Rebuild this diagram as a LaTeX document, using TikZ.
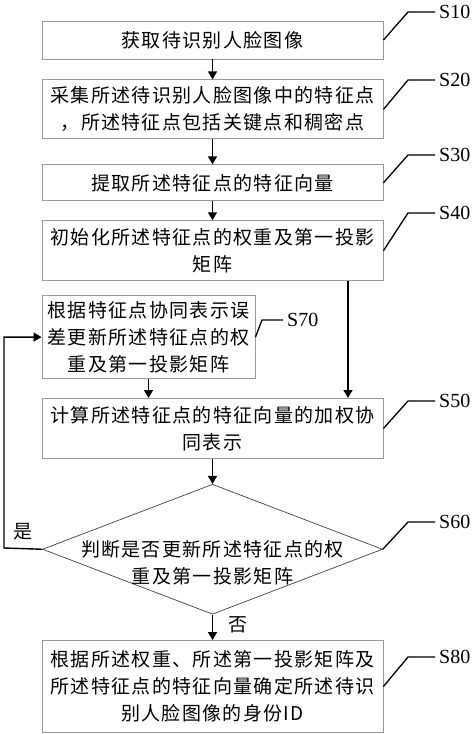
\documentclass[tikz,border=0pt]{standalone}
\usepackage{fontspec}
\setmainfont{Liberation Serif}
\newfontfamily\cjkfont[LetterSpace=7]{Noto Sans CJK SC}
\usetikzlibrary{positioning,shapes.geometric,arrows.meta}

\tikzset{
  stepbox/.style={draw=black!40, line width=0.9pt, inner sep=0pt,
    minimum width=341pt, text width=330pt, align=center,
    font=\cjkfont\fontsize{19}{27}\selectfont},
  decide/.style={diamond, draw=black!75, line width=0.7pt, inner sep=0pt,
    minimum width=340pt, minimum height=130pt},
  flow/.style={line width=1.4pt, -{Triangle[length=8pt,width=9pt]}},
  lead/.style={line width=1.3pt},
  steplabel/.style={anchor=west, inner sep=0pt, font=\fontsize{20}{20}\selectfont},
  cjklabel/.style={inner sep=0pt, font=\cjkfont\fontsize{19}{27}\selectfont}
}

\begin{document}
\begin{tikzpicture}[x=1pt, y=-1pt, node distance=20pt]
  \useasboundingbox (0,0) rectangle (474,734);

  % Define nodes
  \node[stepbox, minimum height=38pt] (s10) at (212.5,40) {获取待识别人脸图像};
  \node[stepbox, minimum height=59pt, below=20pt of s10] (s20)
    {采集所述待识别人脸图像中的特征点\\，所述特征点包括关键点和稠密点};
  \node[stepbox, minimum height=36pt, below=25pt of s20] (s30) {提取所述特征点的特征向量};
  \node[stepbox, minimum height=60pt, below=19pt of s30] (s40)
    {初始化所述特征点的权重及第一投影\\矩阵};
  \node[stepbox, minimum width=213pt, text width=208pt, minimum height=83pt,
    below right=14pt and 0pt of s40.south west, anchor=north west] (s70)
    {根据特征点协同表示误\\差更新所述特征点的权\\重及第一投影矩阵};
  \node[stepbox, minimum height=60pt, anchor=north] (s50) at (212.5,398)
    {计算所述特征点的特征向量的加权协\\同表示};
  \node[decide, below=25pt of s50] (dia) {};
  \node[cjklabel, align=center] (diatext) at (212.5,563)
    {判断是否更新所述特征点的权\\重及第一投影矩阵};
  \node[stepbox, minimum height=92pt] (s80) at (212.5,686.5)
    {根据所述权重、所述第一投影矩阵及\\所述特征点的特征向量确定所述待识\\别人脸图像的身份ID};

  % connectors
  \draw[flow] (s10) -- (s20);
  \draw[flow] (s20) -- (s30);
  \draw[flow] (s30) -- (s40);
  \draw[flow] (s40.south -| 348,0) -- (s50.north -| 348,0);
  \draw[flow] (s70.south) -- (s50.north -| s70.south);
  \draw[flow] (s50) -- (dia.north);
  \draw[flow] (dia.south) -- (s80);
  \draw[flow] (dia.west) -- (4,548) |- (s70.west);
  \node[cjklabel] (yes) at (23,532) {是};
  \node[cjklabel] (no) at (238,625) {否};

  % step labels
  \foreach \nd/\ly/\txt in {s10/12/S10, s20/80/S20, s30/155/S30, s40/213/S40,
      s50/401/S50, dia/522/S60, s80/657/S80} {
    \draw[lead] (\nd.east) -- (408,\ly) -- (435,\ly);
    \node[steplabel] (l\nd) at (439,\ly) {\txt};
  }
  \draw[lead] (s70.east) -- (262,320) -- (283,320);
  \node[steplabel] (ls70) at (287,320) {S70};
\end{tikzpicture}
\end{document}
